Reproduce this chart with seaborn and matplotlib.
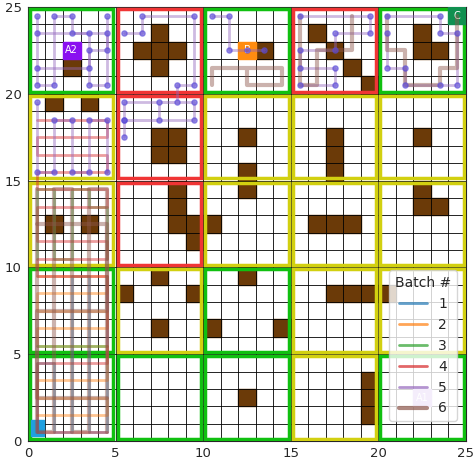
import matplotlib
matplotlib.use("Agg")
import matplotlib.pyplot as plt
import matplotlib.patches as mpatches
import seaborn as sns

sns.set_style("white")

# obstacle cells (lower-left corner)
obstacles = [(2, 21), (7, 23), (6, 22), (7, 22), (8, 22), (7, 21), (13, 22),
             (16, 23), (17, 22), (18, 21), (19, 20), (22, 23), (22, 22), (23, 22),
             (1, 19), (3, 19), (1, 12), (3, 12), (7, 17), (8, 17), (7, 16), (8, 16),
             (12, 17), (12, 15), (17, 17), (17, 16), (17, 15), (22, 17),
             (8, 14), (8, 13), (8, 12), (9, 12), (9, 11), (12, 14), (10, 12),
             (16, 12), (17, 12), (18, 12), (22, 14), (22, 13), (23, 13),
             (7, 9), (5, 8), (9, 8), (7, 6), (12, 9), (10, 6), (14, 6),
             (17, 8), (18, 8), (19, 8), (20, 8), (12, 2), (19, 3), (19, 2), (19, 1)]

# block border status: (x0, y0, colour key)
blocks = [(0, 20, "g"), (5, 20, "r"), (10, 20, "g"), (15, 20, "r"), (20, 20, "g"),
          (0, 15, "y"), (5, 15, "r"), (10, 15, "y"), (15, 15, "y"), (20, 15, "y"),
          (0, 10, "y"), (5, 10, "r"), (10, 10, "y"), (15, 10, "y"), (20, 10, "y"),
          (0, 5, "g"), (5, 5, "y"), (10, 5, "g"), (15, 5, "y"), (20, 5, "y"),
          (0, 0, "g"), (5, 0, "g"), (10, 0, "g"), (15, 0, "y"), (20, 0, "g")]
border_colors = {"g": "#10c010", "r": "#f03535", "y": "#d2d010"}

# agents: label, cell, colour
agents = [("A2", (2, 22), "#8a10f0"), ("B", (12, 22), "#ff8c10"),
          ("C", (24, 24), "#109050"), ("A1", (22, 2), "#c9a8f0")]

batch_colors = ["#1f77b4", "#ff7f0e", "#2ca02c", "#d62728", "#9467bd", "#8c564b"]

# trajectories per batch (cell-centre waypoints)
paths = {
    1: [[(0.5, 0.5), (0.5, 4.5), (1.5, 4.5), (1.5, 0.5), (2.5, 0.5), (2.5, 9.5), (3.5, 9.5), (3.5, 0.5), (4.5, 0.5), (4.5, 9.5)]],
    2: [[(0.5, 9.5), (4.5, 9.5), (4.5, 8.5), (0.5, 8.5), (0.5, 7.5), (4.5, 7.5), (4.5, 6.5), (0.5, 6.5), (0.5, 5.5), (4.5, 5.5),
         (4.5, 3.5), (0.5, 3.5), (0.5, 2.5), (4.5, 2.5), (4.5, 1.5), (0.5, 1.5)]],
    3: [[(0.5, 10.5), (0.5, 14.5), (1.5, 14.5), (1.5, 10.5), (2.5, 10.5), (2.5, 14.5), (3.5, 14.5), (3.5, 13.5), (4.5, 13.5), (4.5, 10.5)],
        [(0.5, 5.5), (4.5, 5.5)]],
    4: [[(0.5, 18.5), (4.5, 18.5), (4.5, 17.5), (0.5, 17.5), (0.5, 16.5), (4.5, 16.5), (4.5, 15.5), (0.5, 15.5), (0.5, 14.5), (4.5, 14.5),
         (4.5, 13.5), (0.5, 13.5), (0.5, 11.5), (4.5, 11.5), (4.5, 10.5), (0.5, 10.5), (0.5, 9.5), (4.5, 9.5), (4.5, 4.5), (0.5, 4.5),
         (0.5, 0.5), (4.5, 0.5)]],
    5: [[(0.5, 24.5), (0.5, 20.5), (1.5, 20.5), (1.5, 24.5), (2.5, 24.5), (2.5, 23.5), (3.5, 23.5), (3.5, 20.5), (4.5, 20.5), (4.5, 24.5)],
        [(0.5, 23.5), (4.5, 23.5), (4.5, 22.5), (3.5, 22.5), (3.5, 21.5), (0.5, 21.5)],
        [(5.5, 23.5), (6.5, 23.5), (6.5, 24.5), (9.5, 24.5), (9.5, 20.5), (8.5, 20.5), (8.5, 19.5), (5.5, 19.5), (5.5, 18.5), (7.5, 18.5),
         (7.5, 19.5), (9.5, 19.5), (9.5, 18.5), (5.5, 18.5), (5.5, 17.5)],
        [(0.5, 19.5), (0.5, 15.5), (1.5, 15.5), (1.5, 18.5), (2.5, 18.5), (2.5, 15.5), (3.5, 15.5), (3.5, 18.5), (4.5, 18.5), (4.5, 15.5)],
        [(15.5, 24.5), (19.5, 24.5), (19.5, 23.5), (17.5, 23.5), (17.5, 22.5), (15.5, 22.5), (15.5, 21.5), (17.5, 21.5), (17.5, 20.5), (15.5, 20.5)],
        [(20.5, 24.5), (23.5, 24.5), (23.5, 23.5), (24.5, 23.5), (24.5, 20.5), (23.5, 20.5), (21.5, 20.5), (21.5, 21.5), (20.5, 21.5), (20.5, 23.5)],
        [(10.5, 24.5), (11.5, 24.5), (11.5, 22.5), (12.5, 22.5), (13.5, 22.5)]],
    6: [[(10.5, 20.5), (10.5, 21.5), (14.5, 21.5), (14.5, 20.5), (12.5, 20.5), (12.5, 21.5)],
        [(15.5, 24.5), (15.5, 20.5), (16.5, 20.5), (16.5, 22.5), (18.5, 22.5), (18.5, 24.5)],
        [(20.5, 24.5), (20.5, 22.5), (21.5, 22.5), (21.5, 20.5), (23.5, 20.5), (23.5, 21.5), (24.5, 21.5), (24.5, 24.5)],
        [(0.5, 14.5), (0.5, 0.5), (1.5, 0.5), (1.5, 14.5), (2.5, 14.5), (2.5, 0.5), (3.5, 0.5), (3.5, 14.5), (4.5, 14.5), (4.5, 0.5)],
        [(0.5, 12.5), (4.5, 12.5), (4.5, 7.5), (0.5, 7.5), (0.5, 2.5), (4.5, 2.5)]],
}

fig, ax = plt.subplots(figsize=(4.74, 4.63), dpi=100)

for (cx, cy) in obstacles:
    ax.add_patch(mpatches.Rectangle((cx, cy), 1, 1, color="#6b3a08", zorder=1))

for i in range(26):
    ax.axhline(i, color="black", lw=0.6, zorder=2)
    ax.axvline(i, color="black", lw=0.6, zorder=2)

for bx, by, key in blocks:
    ax.add_patch(mpatches.Rectangle((bx + 0.12, by + 0.12), 4.76, 4.76, fill=False,
                                    ec=border_colors[key], lw=2.5, zorder=3))

for label, (cx, cy), col in agents:
    ax.add_patch(mpatches.Rectangle((cx, cy), 1, 1, color=col, zorder=4))
    ax.text(cx + 0.5, cy + 0.5, label, color="white", fontsize=7, ha="center", va="center", zorder=5)
ax.add_patch(mpatches.Rectangle((0.2, 0.3), 0.7, 0.9, color="#1fa0e0", zorder=4))

for b, segs in paths.items():
    col = batch_colors[b - 1]
    for k, seg in enumerate(segs):
        xs = [p[0] for p in seg]
        ys = [p[1] for p in seg]
        ax.plot(xs, ys, color=col, lw=3 if b == 6 else 2, alpha=0.45, zorder=6,
                label=str(b) if k == 0 else None)
        if b == 5:
            ax.scatter(xs, ys, color="#5a4ad8", s=14, alpha=0.6, zorder=7)

ax.set_xlim(0, 25)
ax.set_ylim(0, 25)
ax.set_aspect("auto")
ax.set_xticks([0, 5, 10, 15, 20, 25])
ax.set_yticks([0, 5, 10, 15, 20, 25])
ax.tick_params(labelsize=9.5, length=3, pad=1.5)
leg = ax.legend(title="Batch #", loc="lower right", bbox_to_anchor=(0.995, 0.03),
                fontsize=10, title_fontsize=10, framealpha=0.8)
leg.set_zorder(10)
for line in leg.get_lines():
    line.set_alpha(0.7)

fig.subplots_adjust(left=0.059, right=0.983, bottom=0.0475, top=0.985)
fig.savefig("out.png", dpi=100)
